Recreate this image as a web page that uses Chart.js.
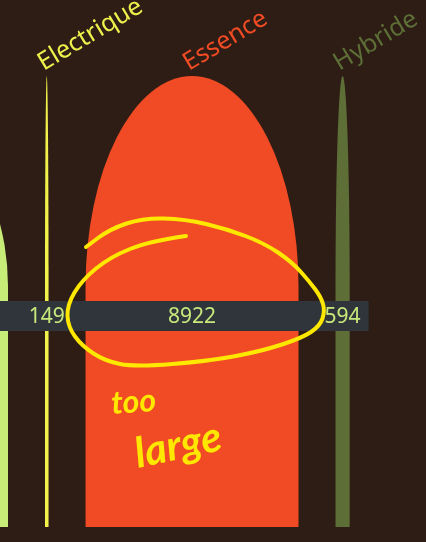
<!DOCTYPE html>
<html>
<head>
<meta charset="utf-8">
<script src="https://cdn.jsdelivr.net/npm/chart.js@4.4.1/dist/chart.umd.min.js"></script>
<style>
  html, body { margin: 0; padding: 0; background: #2d1d15; }
  #boite { width: 426px; height: 542px; position: relative; }
</style>
</head>
<body>
<div id="boite"><canvas id="graphique"></canvas></div>
<script>
// donnees (la premiere categorie est coupee a gauche, son nom n'est pas visible)
var categories = ['Diesel', 'Electrique', 'Essence', 'Hybride'];
var ventes = [15000, 149, 8922, 594];

var couleurs = ['#c8ec78', '#f2f24c', '#f04b25', '#5d6e37'];
var couleursLibelle = ['#c8ec78', '#eef04c', '#f04b25', '#5d6e37'];

var ecart = 1550;          // espace entre deux obus, en unites de l'axe x
var hauteurOgive = 210;    // hauteur de la pointe arrondie, en px

// debut de chaque obus sur l'axe x (largeur = valeur)
var debuts = [];
var cumul = 0;
for (i = 0; i < ventes.length; i++) {
    debuts.push(cumul);
    cumul += ventes[i] + ecart;
}

function dessinerObus(ctx) {
    var x = this.x, w = this.width, haut = this.y, bas = this.base;
    var h = Math.min(hauteurOgive, bas - haut);
    ctx.save();
    ctx.fillStyle = this.options.backgroundColor;
    ctx.beginPath();
    ctx.moveTo(x - w / 2, bas);
    ctx.lineTo(x - w / 2, haut + h);
    ctx.ellipse(x, haut + h, w / 2, h, 0, Math.PI, 2 * Math.PI);
    ctx.lineTo(x + w / 2, bas);
    ctx.closePath();
    ctx.fill();
    ctx.restore();
}

const obus = {
    id: 'obus',
    afterDatasetsUpdate(chart) {
        const xs = chart.scales.x;
        chart.getDatasetMeta(0).data.forEach((el, i) => {
            const g = xs.getPixelForValue(debuts[i]);
            const d = xs.getPixelForValue(debuts[i] + ventes[i]);
            el.x = (g + d) / 2;
            el.width = d - g;
            el.draw = dessinerObus;
        });
    }
};

const libelles = {
    id: 'libelles',
    afterDatasetsDraw(chart) {
        const ctx = chart.ctx;
        const xs = chart.scales.x;
        const els = chart.getDatasetMeta(0).data;
        const gapPx = xs.getPixelForValue(ecart) - xs.getPixelForValue(0);
        const yBande = chart.chartArea.top + 240;

        // noms des categories, inclines
        ctx.save();
        ctx.font = '25px "Noto Sans"';
        ctx.textAlign = 'left';
        ctx.textBaseline = 'alphabetic';
        els.forEach((el, i) => {
            ctx.save();
            ctx.translate(el.x - 3, el.y - 5);
            ctx.rotate(-31 * Math.PI / 180);
            ctx.fillStyle = couleursLibelle[i];
            ctx.fillText(categories[i], 0, 0);
            ctx.restore();
        });
        ctx.restore();

        // bande des valeurs
        ctx.save();
        ctx.font = '21px "Noto Sans"';
        ctx.fillStyle = '#2f353a';
        els.forEach((el, i) => {
            const tw = ctx.measureText(String(ventes[i])).width + 16;
            const w = Math.max(tw, el.width + gapPx);
            ctx.fillRect(el.x - w / 2, yBande - 15, w, 30);
        });
        ctx.fillStyle = '#c8e87c';
        ctx.textAlign = 'center';
        ctx.textBaseline = 'middle';
        els.forEach((el, i) => {
            ctx.fillText(String(ventes[i]), el.x, yBande + 1);
        });
        ctx.restore();
    }
};

// annotation a main levee par dessus la capture
const annotation = {
    id: 'annotation',
    afterDraw(chart) {
        const ctx = chart.ctx;
        const pts = [[186, 236], [150, 241], [110, 257], [82, 280], [67, 305], [68, 327],
            [82, 346], [105, 361], [135, 367], [210, 361], [262, 351], [302, 338],
            [320, 326], [325, 311], [321, 297], [309, 281], [292, 262], [264, 243],
            [227, 229], [185, 219], [143, 218], [110, 229], [86, 247]];
        ctx.save();
        ctx.strokeStyle = '#ffe800';
        ctx.lineWidth = 4;
        ctx.lineCap = 'round';
        ctx.lineJoin = 'round';
        ctx.beginPath();
        ctx.moveTo(pts[0][0], pts[0][1]);
        for (var k = 1; k < pts.length - 1; k++) {
            var mx = (pts[k][0] + pts[k + 1][0]) / 2;
            var my = (pts[k][1] + pts[k + 1][1]) / 2;
            ctx.quadraticCurveTo(pts[k][0], pts[k][1], mx, my);
        }
        ctx.lineTo(pts[pts.length - 1][0], pts[pts.length - 1][1]);
        ctx.stroke();

        ctx.fillStyle = '#ffe800';
        ctx.textAlign = 'left';
        ctx.textBaseline = 'alphabetic';
        ctx.save();
        ctx.translate(112, 414);
        ctx.rotate(-4 * Math.PI / 180);
        ctx.font = 'italic bold 32px Lato';
        ctx.fillText('too', 0, 0);
        ctx.restore();
        ctx.save();
        ctx.translate(138, 468);
        ctx.rotate(-12 * Math.PI / 180);
        ctx.font = 'italic bold 42px Lato';
        ctx.fillText('large', 0, 0);
        ctx.restore();
        ctx.restore();
    }
};

const ctx = document.getElementById('graphique');
new Chart(ctx, {
    type: 'bar',
    data: {
        labels: categories,
        datasets: [{
            label: 'Ventes',
            data: ventes.map((v, i) => ({ x: debuts[i] + v / 2, y: 1 })),
            backgroundColor: couleurs,
            borderWidth: 0
        }]
    },
    options: {
        responsive: true,
        maintainAspectRatio: false,
        animation: false,
        clip: false,
        layout: { padding: { top: 76, bottom: 15, left: 0, right: 0 } },
        plugins: {
            legend: { display: false },
            tooltip: { enabled: false }
        },
        scales: {
            x: { type: 'linear', offset: false, min: 14665, max: 32512, display: false },
            y: { min: 0, max: 1, display: false }
        }
    },
    plugins: [obus, libelles, annotation]
});
</script>
</body>
</html>
